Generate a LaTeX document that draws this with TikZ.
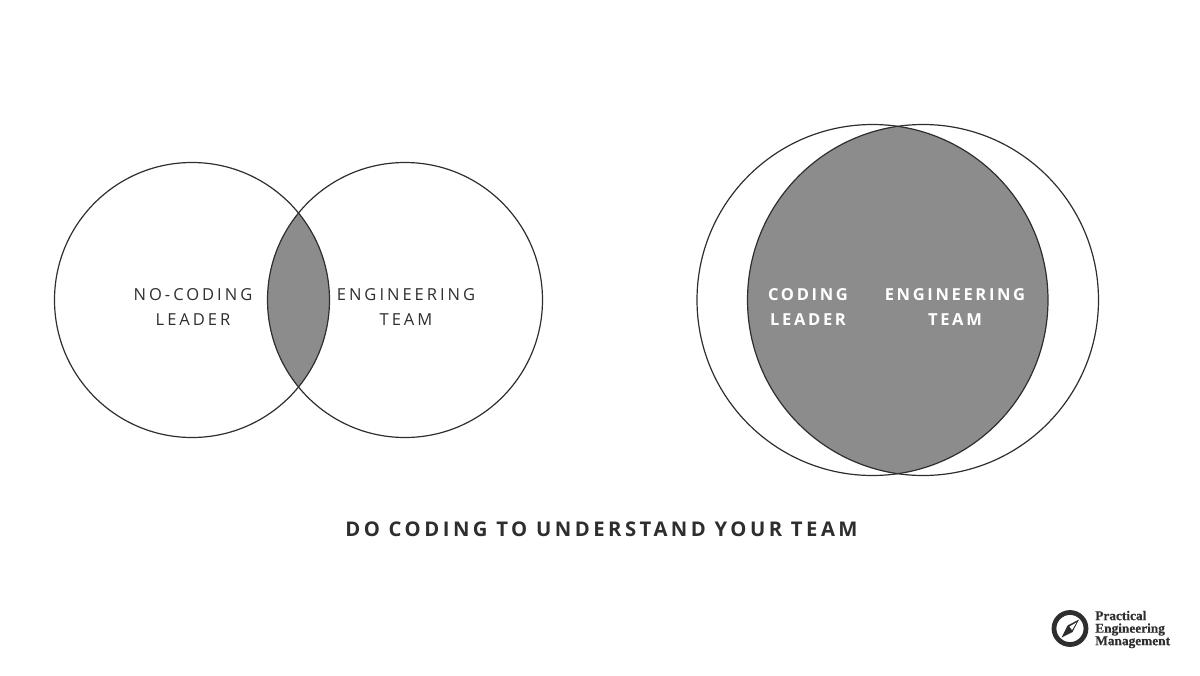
\documentclass[tikz,border=0pt]{standalone}
\usepackage{fontspec}
\setmainfont{Open Sans}
\newfontfamily\labelfont[LetterSpace=18]{Open Sans}
\newfontfamily\titlefont[LetterSpace=17.2]{Open Sans}
\newfontfamily\whitefont[LetterSpace=16]{Open Sans}
\newfontfamily\brandfont[FakeBold=0.6]{Liberation Serif Bold}
\usepackage{xcolor}
\definecolor{lensgray}{HTML}{8C8C8C}
\definecolor{inkgray}{HTML}{2E2E2E}
\tikzset{
  venn/.style={draw=inkgray,line width=0.9pt},
  label/.style={font=\labelfont\fontsize{12.4}{18.75}\selectfont,align=center,text=inkgray,inner sep=0pt},
  whitelabel/.style={label,text=white,font=\whitefont\bfseries\fontsize{12.4}{18.75}\selectfont},
}
\begin{document}
\begin{tikzpicture}[x=0.75pt,y=-0.75pt]
      \useasboundingbox (0,0) rectangle (1200,675);
      \def\rsmall{137.5}
      \def\rbig{175.5}

      % left pair
      \begin{scope}
        \clip (192,300) circle (\rsmall);
        \fill[lensgray] (405,300) circle (\rsmall);
      \end{scope}
      \draw[venn] (192,300) circle (\rsmall);
      \draw[venn] (405,300) circle (\rsmall);

      % right pair
      \begin{scope}
        \clip (872.5,300) circle (\rbig);
        \fill[lensgray] (923,300) circle (\rbig);
      \end{scope}
      \draw[venn] (872.5,300) circle (\rbig);
      \draw[venn] (923,300) circle (\rbig);

      \node[label] (nocoding) at (193,307) {NO-CODING\\LEADER};
      \node[label] (engleft) at (406,307) {ENGINEERING\\TEAM};
      \node[whitelabel] (coding) at (808,307) {CODING\\LEADER};
      \node[whitelabel] (engright) at (955,307) {ENGINEERING\\TEAM};

      \node[inner sep=0pt,text=inkgray,font=\titlefont\bfseries\fontsize{15.2}{20}\selectfont] (title) at (601.5,529) {DO CODING TO UNDERSTAND YOUR TEAM};

      % logo
      \draw[inkgray,line width=3.6pt] (1070,628.5) circle (16);
      \fill[inkgray] (1079,619.5) -- (1072.5,632) -- (1061.5,637.5) -- (1067.5,625.5) -- cycle;
      \fill[white] (1076.5,622.5) -- (1072,630) -- (1069.5,626.5) -- cycle;
      \node[inner sep=0pt,anchor=west,align=left,text=inkgray,font=\brandfont\fontsize{10}{9.4}\selectfont] (brand) at (1095,629.5) {Practical\\Engineering\\Management};
\end{tikzpicture}
\end{document}
